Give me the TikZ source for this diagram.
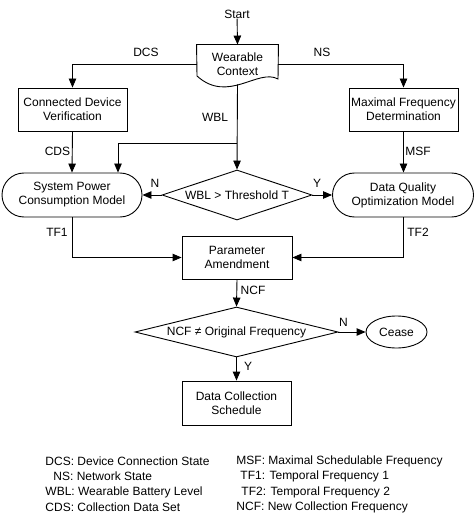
\documentclass[tikz,border=0pt]{standalone}
\usepackage{fontspec}
\setmainfont{Liberation Sans}
\usetikzlibrary{arrows.meta,shapes.geometric}
\begin{document}
\begin{tikzpicture}[x=1bp,y=-1bp,line width=0.9bp,
  font=\fontsize{12bp}{14bp}\selectfont,
  arr/.style={-{Triangle[length=9bp,width=7.5bp]}},
  box/.style={draw,rectangle,align=center,minimum width=109bp,minimum height=43bp,inner sep=0},
  term/.style={draw,rectangle,rounded corners=22bp,align=center,minimum width=140bp,minimum height=44bp,inner sep=0},
  dec/.style={draw,diamond,align=center,inner sep=0},
  lbl/.style={inner sep=0},
  leg/.style={inner sep=0,anchor=west}]
\useasboundingbox (0,0) rectangle (474,516);

% nodes
\node[lbl] (start) at (237,14) {Start};
\node[minimum width=81bp,minimum height=39bp,align=center,inner sep=0] (wc) at (237.5,64.5) {Wearable\\Context};
\draw (wc.north west) -- (wc.north east) -- (278,79) .. controls (258,68) and (228,104) .. (197,76) -- cycle;

\node[box] (cdv) at (72.5,109.5) {Connected Device\\Verification};
\node[box] (mfd) at (403.5,109.5) {Maximal Frequency\\Determination};
\node[term] (spc) at (72,195) {System Power\\Consumption Model};
\node[term,minimum width=141bp] (dqo) at (403,195) {Data Quality\\Optimization Model};
\node[dec,shape aspect=3,minimum width=150bp,minimum height=50bp] (d1) at (237,195) {WBL > Threshold T};
\node[box,minimum width=110bp] (pa) at (237,257.5) {Parameter\\Amendment};
\node[dec,shape aspect=4,minimum width=203bp,minimum height=50bp] (d2) at (236.5,332) {NCF ≠ Original Frequency};
\node[draw,ellipse,minimum width=61bp,minimum height=32bp,inner sep=0] (cease) at (396.5,332) {Cease};
\node[box,minimum height=44bp] (dcs) at (236.5,403) {Data Collection\\Schedule};

% connectors
\draw[arr] (start) -- (wc.north);
\draw[arr] (wc.west) -| (cdv.north);
\draw[arr] (wc.east) -| (mfd.north);
\draw[arr] (wc.south) -- (d1.north);
\coordinate (br) at (237,143);
\draw[arr] (br) -| ([xshift=46bp]spc.north);
\draw[arr] (cdv.south) -- (spc.north);
\draw[arr] (mfd.south) -- (mfd.south |- dqo.north);
\draw[arr] (d1.west) -- (spc.east);
\draw[arr] (d1.east) -- (dqo.west);
\draw[arr] (spc.south) |- (pa.west);
\draw[arr] (dqo.south) |- (pa.east);
\draw[arr] (pa.south) -- (d2.north);
\draw[arr] (d2.east) -- (cease.west);
\draw[arr] (d2.south) -- (dcs.north);

% labels
\node[lbl] at (146,52) {DCS};
\node[lbl] at (322,52) {NS};
\node[lbl] at (215,117) {WBL};
\node[lbl] at (57.5,151) {CDS};
\node[lbl] at (418,151) {MSF};
\node[lbl] at (155,183) {N};
\node[lbl] at (317,183) {Y};
\node[lbl] at (57,232) {TF1};
\node[lbl] at (418,232) {TF2};
\node[lbl] at (253,290) {NCF};
\node[lbl] at (343.5,322) {N};
\node[lbl] at (248,366) {Y};

% legend
\node[leg] at (45,461) {DCS: Device Connection State};
\node[leg] at (53,476.5) {NS: Network State};
\node[leg] at (45,492) {WBL: Wearable Battery Level};
\node[leg] at (45,507.5) {CDS: Collection Data Set};
\node[leg] at (236,461) {MSF: Maximal Schedulable Frequency};
\node[leg] at (240,476.5) {TF1: Temporal Frequency 1};
\node[leg] at (241,492) {TF2: Temporal Frequency 2};
\node[leg] at (236,507.5) {NCF: New Collection Frequency};
\end{tikzpicture}
\end{document}
